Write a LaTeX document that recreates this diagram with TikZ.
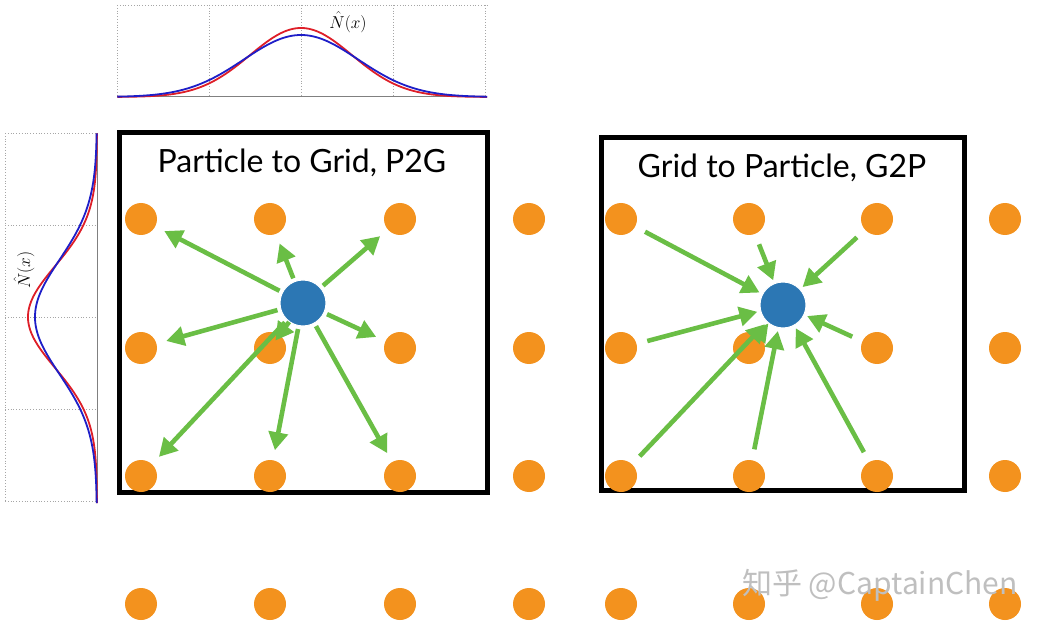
\documentclass[tikz,border=0pt]{standalone}
\usepackage{fontspec}
\setmainfont{Lato}
\newfontfamily\cjkfont{Noto Sans CJK SC}
\usepackage{xcolor}
\usetikzlibrary{arrows.meta}
\definecolor{dotorange}{RGB}{243,146,30}
\definecolor{partblue}{RGB}{44,119,180}
\definecolor{arrowgreen}{RGB}{106,190,69}
\definecolor{curvered}{RGB}{222,30,40}
\definecolor{curveblue}{RGB}{30,30,200}
\tikzset{
gridpt/.style={circle,fill=dotorange,minimum size=32pt,inner sep=0pt},
particle/.style={circle,fill=partblue,draw=white,line width=1pt,minimum size=46pt,inner sep=0pt},
flowout/.style={arrowgreen,line width=4.6pt,-{Triangle[length=18pt,width=19pt]},shorten <=3pt,shorten >=10pt},
flowin/.style={arrowgreen,line width=4.6pt,-{Triangle[length=18pt,width=19pt]},shorten <=11pt,shorten >=3pt},
frame/.style={line width=5pt},
title/.style={font=\fontsize{32}{32}\selectfont,anchor=base},
guide/.style={gray!70,dotted,line width=0.8pt},
kernel/.style={line width=1.8pt,domain=-3.6:3.65,samples=80,smooth,variable=\u},
}

\begin{document}
\begin{tikzpicture}[x=1pt,y=-1pt]
\useasboundingbox (0,0) rectangle (1050,631);
% weight curves
\draw[guide](117,5)--(487,5);
\foreach \gx in {117,209,301,393,485} \draw[guide](\gx,5)--(\gx,97);
\draw[gray,line width=1pt](117,97)--(487,97);
\draw[kernel,curvered]plot({301+51*\u},{97-69*exp(-\u*\u/2)});
\draw[kernel,curveblue]plot({301+51*\u},{97-62*exp(-0.8*\u*\u/2)});
\node[font=\fontsize{17}{17}\selectfont] (topN) at (348,22) {$\hat{N}(x)$};
\draw[guide](5,133)--(5,501);
\foreach \gy in {133,225,317,409,501} \draw[guide](5,\gy)--(97,\gy);
\draw[gray,line width=1pt](97,133)--(97,501);
\draw[kernel,curvered]plot({97-69*exp(-\u*\u/2)},{317+51*\u});
\draw[kernel,curveblue]plot({97-62*exp(-0.8*\u*\u/2)},{317+51*\u});
\node[font=\fontsize{17}{17}\selectfont,rotate=90] (sideN) at (24,270) {$\hat{N}(x)$};
% frames and titles
\draw[frame](119,132.5) rectangle (487.5,492);
\draw[frame](601.5,138) rectangle (964.5,490);
\node[title] (p2g) at (302,173) {Particle to Grid, P2G};
\node[title] (g2p) at (782,178) {Grid to Particle, G2P};
% grid nodes
\foreach \c/\gx in {1/141,2/270,3/400,4/529}
  \foreach \r/\gy in {1/219,2/348,3/476,4/604}
    \node[gridpt] (l\c\r) at (\gx,\gy) {};
\foreach \c/\gx in {1/621,2/749,3/877,4/1005}
  \foreach \r/\gy in {1/219,2/348,3/476,4/604}
    \node[gridpt] (r\c\r) at (\gx,\gy) {};
% particles and transfers
\node[particle] (pl) at (303,303) {};
\node[particle] (pr) at (783,305) {};
\foreach \t in {11,21,31,12,32,13,23,33} \draw[flowout](pl)--(l\t);
\draw[flowout,shorten <=0pt,shorten >=-7pt](pl)--(l22);
\foreach \t in {11,21,31,12,32,13,23,33} \draw[flowin](r\t)--(pr);
\draw[flowin,shorten <=-4pt,shorten >=0pt](r22)--(pr);
\node[text=black!25,font=\cjkfont\fontsize{30}{30}\selectfont] (mark) at (880,585) {知乎 @CaptainChen};
\end{tikzpicture}
\end{document}
